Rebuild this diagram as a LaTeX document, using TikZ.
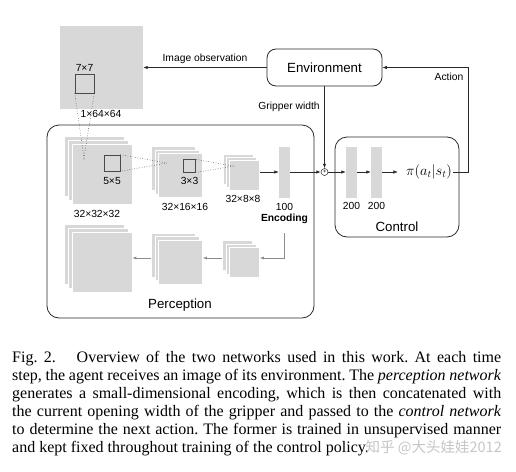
\documentclass[tikz,border=0pt]{standalone}
\usepackage{fontspec}
\setmainfont{Liberation Serif}
\setsansfont{Liberation Sans}
\newfontfamily\cjk{Noto Sans CJK SC}
\usepackage{xcolor}
\usepackage{tikz}
\usetikzlibrary{arrows.meta, positioning}

\definecolor{boxgray}{HTML}{D8D8D8}
\definecolor{linegray}{HTML}{2A2A2A}
\definecolor{decgray}{HTML}{8C8C8C}

\begin{document}
\begin{tikzpicture}[
  x=1pt, y=-1pt,
  every node/.style={font=\sffamily\fontsize{10.3}{12}\selectfont},
  title/.style={font=\sffamily\fontsize{13.3}{15}\selectfont},
  bigbox/.style={draw=linegray, line width=0.8pt, rounded corners=12pt, inner sep=0pt},
  layer/.style={fill=boxgray, draw=white, line width=0.5pt, inner sep=0pt, minimum size=#1},
  bar/.style={fill=boxgray, inner sep=0pt, minimum width=11pt, minimum height=51pt},
  kernel/.style={draw=linegray!85, line width=0.6pt, inner sep=0pt},
  field/.style={dotted, draw=linegray, line width=0.5pt},
  arrow/.style={-{Latex[length=4.5pt, width=3.5pt]}, draw=linegray, line width=0.7pt},
  decarrow/.style={-{Latex[length=4pt, width=3pt]}, draw=decgray, line width=0.6pt},
]
\fill[white] (0,0) rectangle (516,471);
\useasboundingbox (0,0) rectangle (516,471);

% Boxes
\node[bigbox, minimum width=267pt, minimum height=193pt] (perc) at (180.5,221.5) {};
\node[bigbox, minimum width=124pt, minimum height=100pt] (ctrl) at (397,187) {};
\node[bigbox, rounded corners=9pt, minimum width=115pt, minimum height=37pt, title] (env) at (324.5,67.5) {Environment};
\node[title] at (180,305) {Perception};
\node[title] at (397,227) {Control};

% Input image
\node[fill=boxgray, inner sep=0pt, minimum size=83pt] (img) at (101.5,67.5) {};
\node[kernel, minimum size=19pt] (k7) at (84.5,83.5) {};
\node at (84.5,67.5) {7×7};
\node at (101,114) {1×64×64};

% Encoder
\foreach \i in {2,1,0}
  \node[layer=60pt] (l1-\i) at ({102-4*\i},{174.5-4*\i}) {};
\foreach \i in {2,1,0}
  \node[layer=44pt] (l2-\i) at ({180.5-3.5*\i},{175.5-3.5*\i}) {};
\foreach \i in {2,1,0}
  \node[layer=30pt] (l3-\i) at ({244.5-3*\i},{175-3*\i}) {};
\node[kernel, minimum size=16pt] (k5) at (112,163) {};
\node[kernel, minimum size=12.5pt] (k3) at (189.5,166) {};
\node at (112,181) {5×5};
\node at (189.5,181) {3×3};
\node at (97,214) {32×32×32};
\node at (185,207) {32×16×16};
\node at (243,199) {32×8×8};
\node[bar] (enc) at (284.5,172) {};
\node at (284.5,207) {100};
\node[font=\sffamily\bfseries\fontsize{10.3}{12}\selectfont] at (284.5,219) {Encoding};

% Receptive fields
\coordinate (f1) at (84,158);
\coordinate (f2) at (167,163);
\coordinate (f3) at (233,166);
\draw[field] (k7.south west) -- (f1) -- (k7.south east);
\draw[field] (k5.north east) -- (f2) -- (k5.south east);
\draw[field] (k3.north east) -- (f3) -- (k3.south east);

% Decoder
\foreach \i in {2,1,0}
  \node[layer=60pt] (d1-\i) at ({102-4*\i},{262-4*\i}) {};
\foreach \i in {2,1,0}
  \node[layer=44pt] (d2-\i) at ({180.5-3.5*\i},{262-3.5*\i}) {};
\foreach \i in {2,1,0}
  \node[layer=30pt] (d3-\i) at ({244.5-3.5*\i},{262.5-3.5*\i}) {};

% Control
\node[circle, draw=linegray, line width=0.5pt, inner sep=0pt, minimum size=7pt,
  font=\sffamily\fontsize{6}{6}\selectfont] (cat) at (324.5,172) {+};
\node[bar] (c1) at (351.5,172) {};
\node[bar] (c2) at (376.5,172) {};
\node at (351.5,206) {200};
\node at (376.5,206) {200};
\node[inner sep=1pt, font=\fontsize{14.5}{16}\selectfont] (pi) at (429,172) {$\pi(a_t|s_t)$};
\coordinate (act) at (468,67.5);

% Labels
\node at (205,59) {Image observation};
\node at (289,107) {Gripper width};
\node at (449,77) {Action};

% Arrows
\draw[arrow] (env) -- (img);
\draw[arrow] (env) -- (cat);
\draw[arrow] (l3-0.east |- enc) -- (enc);
\draw[arrow] (enc) -- (cat);
\draw[arrow] (cat) -- (c1);
\draw[arrow] (c1) -- (c2);
\draw[arrow, shorten >=7pt] (c2) -- (pi);
\draw[arrow] (pi.east) -| (act) -- (env.east);
\coordinate (drow) at (0,258);
\coordinate (encdown) at (284.5,233);
\draw[decarrow] (encdown) |- (d3-0.east |- drow);
\draw[decarrow] (d3-2.west |- drow) -- (d2-0.east |- drow);
\draw[decarrow] (d2-2.west |- drow) -- (d1-0.east |- drow);

% Caption
\node[anchor=base west, text width=489pt, align=justify, inner sep=0pt,
  font=\rmfamily\fontsize{16}{18}\selectfont\frenchspacing] (caption) at (12,362)
  {Fig.~2.\hskip 1.3em Overview of the two networks used in this work. At each time\linebreak
  step, the agent receives an image of its environment. The \textit{perception network}\linebreak
  generates a small-dimensional encoding, which is then concatenated with\linebreak
  the current opening width of the gripper and passed to the \textit{control network}\linebreak
  to determine the next action. The former is trained in unsupervised manner\linebreak
  and kept fixed throughout training of the control policy.};
\node[anchor=base east, inner sep=0pt, text=gray!45, font=\cjk\fontsize{14.5}{16}\selectfont] (mark) at (502,452) {知乎 @大头娃娃2012};
\end{tikzpicture}
\end{document}
